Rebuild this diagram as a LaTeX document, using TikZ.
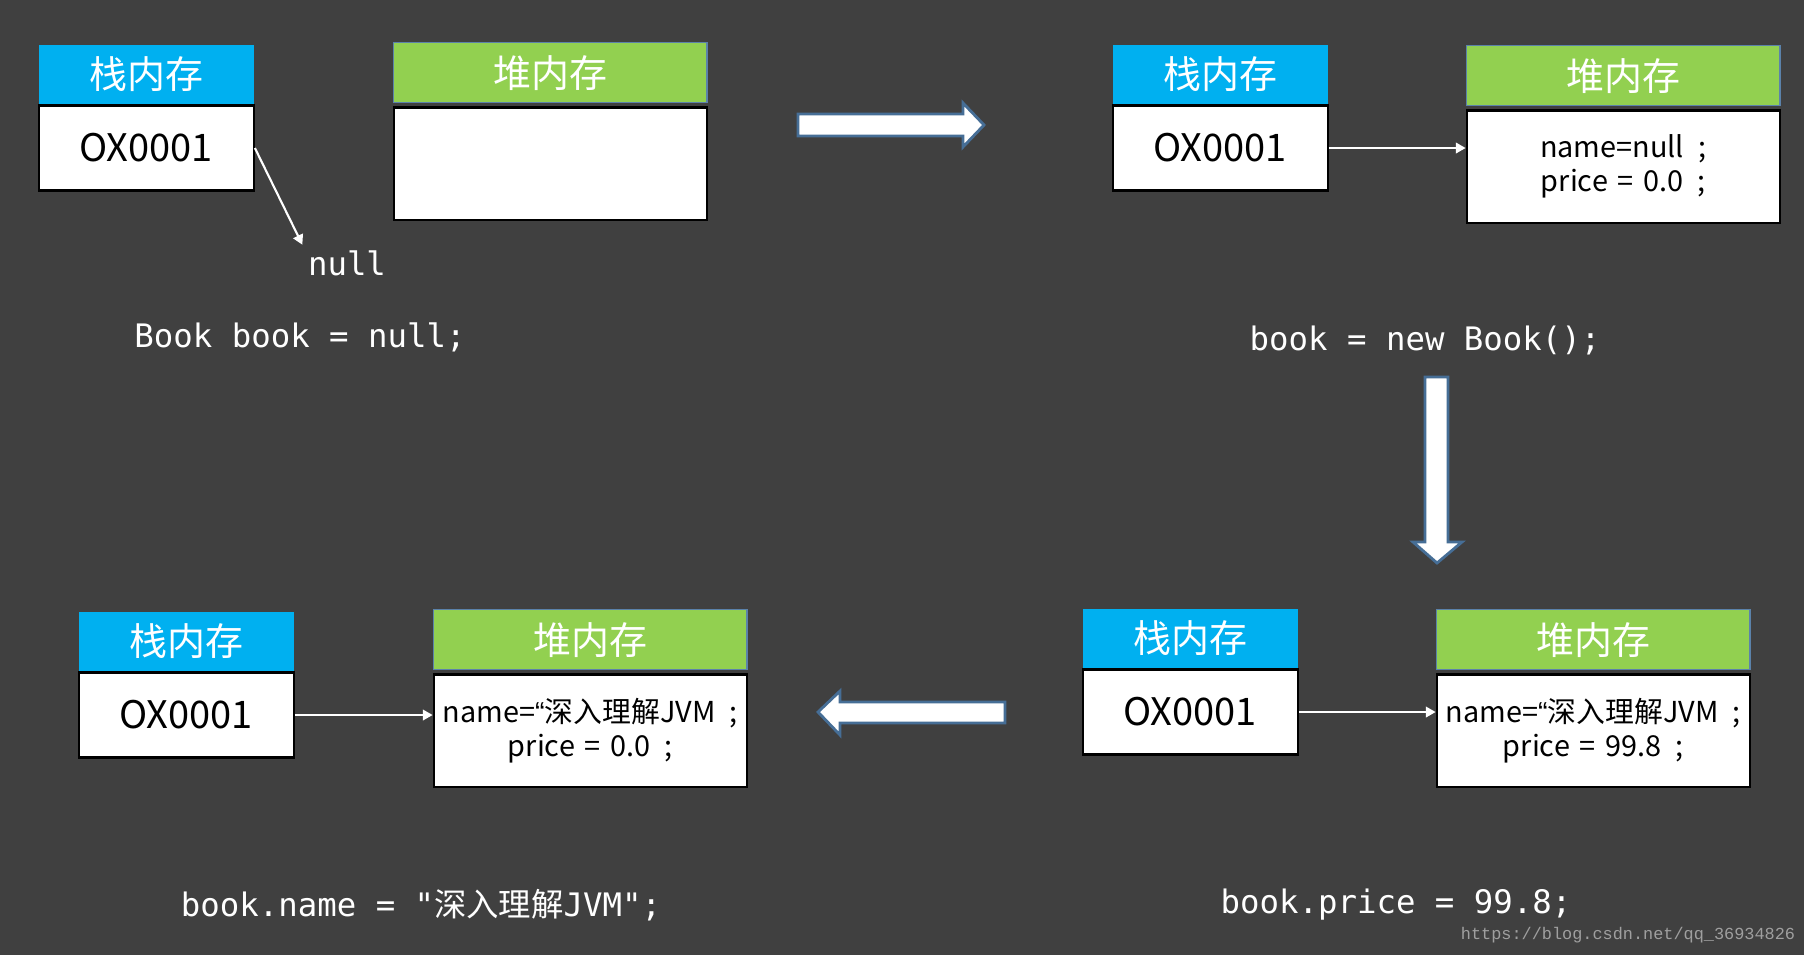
\documentclass[tikz,border=0pt]{standalone}
\usepackage{fontspec}
\setmainfont{Noto Sans CJK SC}
\newfontfamily\cjk{Noto Sans CJK SC}
\newfontfamily\quotefont{Liberation Sans}
\newfontfamily\codefont{DejaVu Sans Mono}
\newfontfamily\markfont{Liberation Mono}
\usetikzlibrary{positioning,arrows.meta}
\definecolor{slidebg}{RGB}{64,64,64}
\definecolor{stackblue}{RGB}{0,176,240}
\definecolor{heapgreen}{RGB}{146,208,80}
\definecolor{heapline}{RGB}{91,130,170}
\definecolor{arrowline}{RGB}{70,110,150}
\begin{document}
\begin{tikzpicture}[x=0.01cm,y=-0.01cm,
  stackhead/.style = {anchor=north west, fill=stackblue, text=white, inner sep=0pt,
    minimum width=2.15cm, minimum height=0.59cm, font=\fontsize{10.8}{12}\selectfont},
  heaphead/.style = {anchor=north west, fill=heapgreen, draw=heapline, line width=0.4pt, text=white,
    inner sep=0pt, minimum width=3.13cm, minimum height=0.6cm, font=\fontsize{10.8}{12}\selectfont},
  cellbox/.style = {fill=white, draw=black, line width=0.6pt, inner sep=0pt,
    minimum width=2.15cm, minimum height=0.85cm, font=\fontsize{10.8}{12}\selectfont},
  heapbox/.style = {fill=white, draw=black, line width=0.6pt, inner sep=0pt, align=center,
    text width=3.13cm, minimum height=1.12cm, font=\fontsize{8.2}{9.7}\selectfont},
  ptr/.style = {draw=white, line width=0.6pt, -{Triangle[length=2.8pt,width=3pt]}},
  codetext/.style = {text=white, inner sep=0.05cm, font=\codefont\fontsize{9.2}{11}\selectfont},
  bigarrow/.style = {fill=white, draw=arrowline, line width=0.8pt, line join=miter}]

  \useasboundingbox[fill=slidebg] (0,0) rectangle (1804,955);

  \node[stackhead] (s1h) at (38,44) {栈内存};
  \node[cellbox, below=0pt of s1h] (s1b) {OX0001};
  \node[heaphead] (h1h) at (393,42) {堆内存};
  \node[heapbox, below=0.03cm of h1h] (h1b) {};
  \node[codetext] (nul) at (347,263) {null};
  \draw[ptr] (s1b.east) -- (nul.north west);
  \node[codetext] (c1) at (300,337) {Book book = null;};

  \node[stackhead] (s2h) at (1112,44) {栈内存};
  \node[cellbox, below=0pt of s2h] (s2b) {OX0001};
  \node[heaphead] (h2h) at (1466,45) {堆内存};
  \node[heapbox, below=0.03cm of h2h] (h2b) {name=null\, ;\\price = 0.0\, ;};
  \draw[ptr] (s2b.east) -- (s2b.east -| h2b.west);
  \node[codetext] (c2) at (1425,340) {book = new Book();};

  \node[stackhead] (s3h) at (1082,608) {栈内存};
  \node[cellbox, below=0pt of s3h] (s3b) {OX0001};
  \node[heaphead] (h3h) at (1436,609) {堆内存};
  \node[heapbox, below=0.03cm of h3h] (h3b) {name={\quotefont “}深入理解JVM\, ;\\price = 99.8\, ;};
  \draw[ptr] (s3b.east) -- (s3b.east -| h3b.west);
  \node[codetext] (c3) at (1396,905) {book.price = 99.8;};

  \node[stackhead] (s4h) at (78,611) {栈内存};
  \node[cellbox, below=0pt of s4h] (s4b) {OX0001};
  \node[heaphead] (h4h) at (433,609) {堆内存};
  \node[heapbox, below=0.03cm of h4h] (h4b) {name={\quotefont “}深入理解JVM\, ;\\price = 0.0\, ;};
  \draw[ptr] (s4b.east) -- (s4b.east -| h4b.west);
  \node[codetext] (c4) at (421,905) {book.name = "{\cjk 深入理解}JVM";};

  \draw[bigarrow] (798,114) -- (963,114) -- (963,103) -- (984,125) -- (963,147) -- (963,136) -- (798,136) -- cycle;
  \draw[bigarrow] (1425,377) -- (1448,377) -- (1448,542) -- (1462,542) -- (1437,563) -- (1413,542) -- (1425,542) -- cycle;
  \draw[bigarrow] (1005,702) -- (840,702) -- (840,691) -- (818,712) -- (840,735) -- (840,723) -- (1005,723) -- cycle;

  \node[text=gray!75, inner sep=0pt, font=\markfont\fontsize{4.8}{6}\selectfont] (mark) at (1628,935) {https://blog.csdn.net/qq\_36934826};
\end{tikzpicture}
\end{document}
